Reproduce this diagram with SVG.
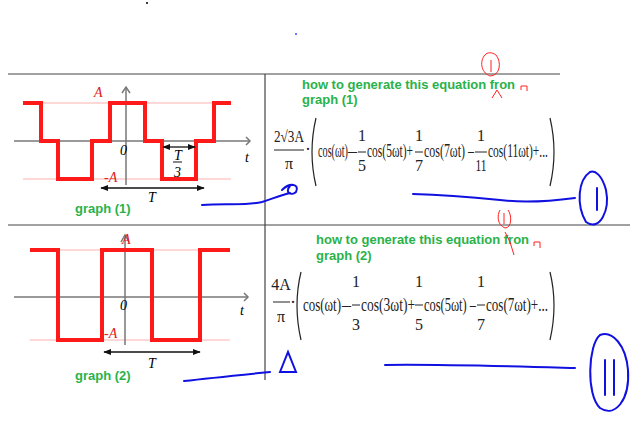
<svg xmlns="http://www.w3.org/2000/svg" width="641" height="427" viewBox="0 0 641 427">
<style>
.wave{fill:none;stroke:#ff1a1a;stroke-width:4}
.ref{stroke:#ffb0b0;stroke-width:1}
.ax{stroke:#777;stroke-width:1.5;fill:none}
.lbl{font-family:"Liberation Serif",serif;font-style:italic;font-size:14px}
.red{fill:#e02020}
.g{font-family:"Liberation Sans",Arial,sans-serif;font-weight:bold;font-size:13px;fill:#2ab24a}
.eq{font-family:"Liberation Serif",serif;font-size:18px;fill:#222}
.s{font-family:"Liberation Serif",serif;font-size:16px;fill:#222;text-anchor:middle}
.par{fill:none;stroke:#222;stroke-width:1.2}
.ink{fill:none;stroke:#1010e0;stroke-width:2;stroke-linecap:round}
.rink{fill:none;stroke:#ff2020;stroke-width:1}
</style>
<defs><marker id="ah" viewBox="0 0 10 10" refX="9" refY="5" markerWidth="6" markerHeight="6" orient="auto-start-reverse"><path d="M0,1 L10,5 L0,9z" fill="#111"/></marker></defs>
<rect width="641" height="427" fill="#fff"/>
<g id="frame" stroke="#444" stroke-width="1.2">
<line x1="8" y1="74" x2="560" y2="74"/><line x1="8" y1="225" x2="630" y2="225"/><line x1="265" y1="74" x2="265" y2="380"/>
</g>
<g id="graph1">
<line class="ref" x1="23" y1="103" x2="231" y2="103"/><line class="ref" x1="23" y1="179" x2="231" y2="179"/>
<line class="ax" x1="14" y1="141" x2="250" y2="141"/><line class="ax" x1="126" y1="185" x2="126" y2="88"/>
<path class="ax" d="M122,93 L126,87 L130,93 M246,137 L250,141 L246,145"/>
<path class="wave" d="M23,103H41V141H58V179H92V141H110V103H145V141H162V179H196V141H214V103H231"/>
<line x1="163" y1="147" x2="195" y2="147" stroke="#111" stroke-width="1.3" marker-start="url(#ah)" marker-end="url(#ah)"/>
<line x1="101" y1="188" x2="204" y2="188" stroke="#111" stroke-width="1.3" marker-start="url(#ah)" marker-end="url(#ah)"/>
<text class="lbl red" x="94" y="97">A</text><text class="lbl red" x="104" y="182">-A</text>
<text class="lbl" x="120" y="155">0</text><text class="lbl" x="245" y="162">t</text><text class="lbl" x="148" y="202">T</text>
<text class="lbl" x="174" y="160">T</text><line x1="173" y1="162" x2="182" y2="162" stroke="#111"/><text class="lbl" x="174" y="177">3</text>
<text class="g" x="75" y="213">graph (1)</text>
</g>
<g id="graph2">
<line class="ref" x1="30" y1="250" x2="230" y2="250"/><line class="ref" x1="30" y1="340" x2="230" y2="340"/>
<line class="ax" x1="14" y1="297" x2="248" y2="297"/><line class="ax" x1="125" y1="345" x2="125" y2="236"/>
<path class="ax" d="M121,242 L125,235 L129,242 M244,293 L248,297 L244,301"/>
<path class="wave" d="M30,250H58V340H102V250H152V340H200V250H230"/>
<line x1="104" y1="352" x2="200" y2="352" stroke="#111" stroke-width="1.3" marker-start="url(#ah)" marker-end="url(#ah)"/>
<text class="lbl red" x="122" y="244">A</text><text class="lbl red" x="104" y="338">-A</text>
<text class="lbl" x="120" y="310">0</text><text class="lbl" x="240" y="315">t</text><text class="lbl" x="148" y="368">T</text>
<text class="g" x="75" y="380">graph (2)</text>
</g>
<g id="eq1">
<text class="g" x="302" y="89">how to generate this equation fron</text><text class="g" x="302" y="104">graph (1)</text>
<text class="s" x="289" y="142" textLength="30" lengthAdjust="spacingAndGlyphs">2√3A</text>
<line x1="274" y1="150" x2="304" y2="150" stroke="#222"/><text class="s" x="289" y="169">π</text>
<text class="eq" x="305" y="155">·</text>
<path class="par" d="M316,118 Q308,152 316,186 M550,118 Q558,152 550,186"/>
<text class="eq" x="318" y="157" textLength="30" lengthAdjust="spacingAndGlyphs">cos(ωt)</text>
<text class="eq" x="348" y="157">–</text>
<text class="s" x="362" y="141">1</text><line x1="358" y1="152" x2="366" y2="152" stroke="#222"/><text class="s" x="362" y="171">5</text>
<text class="eq" x="367" y="157" textLength="46" lengthAdjust="spacingAndGlyphs">cos(5ωt)+</text>
<text class="s" x="419" y="141">1</text><line x1="415" y1="152" x2="423" y2="152" stroke="#222"/><text class="s" x="419" y="171">7</text>
<text class="eq" x="424" y="157" textLength="50" lengthAdjust="spacingAndGlyphs">cos(7ωt) –</text>
<text class="s" x="481" y="141">1</text><line x1="475" y1="152" x2="487" y2="152" stroke="#222"/><text class="s" x="481" y="171" textLength="11" lengthAdjust="spacingAndGlyphs">11</text>
<text class="eq" x="488" y="157" textLength="60" lengthAdjust="spacingAndGlyphs">cos(11ωt)+...</text>
</g>
<g id="eq2">
<text class="g" x="316" y="244">how to generate this equation fron</text><text class="g" x="316" y="260">graph (2)</text>
<text class="s" x="281" y="290">4A</text><line x1="273" y1="302" x2="290" y2="302" stroke="#222"/><text class="s" x="281" y="322">π</text>
<text class="eq" x="290" y="308">·</text>
<path class="par" d="M301,272 Q293,305 301,340 M550,272 Q558,305 550,340"/>
<text class="eq" x="303" y="311" textLength="38" lengthAdjust="spacingAndGlyphs">cos(ωt)</text>
<text class="eq" x="342" y="311">–</text>
<text class="s" x="356" y="287">1</text><line x1="352" y1="305" x2="360" y2="305" stroke="#222"/><text class="s" x="356" y="330">3</text>
<text class="eq" x="361" y="311" textLength="54" lengthAdjust="spacingAndGlyphs">cos(3ωt)+</text>
<text class="s" x="419" y="287">1</text><line x1="415" y1="305" x2="423" y2="305" stroke="#222"/><text class="s" x="419" y="330">5</text>
<text class="eq" x="424" y="311" textLength="52" lengthAdjust="spacingAndGlyphs">cos(5ωt) –</text>
<text class="s" x="481" y="287">1</text><line x1="477" y1="305" x2="485" y2="305" stroke="#222"/><text class="s" x="481" y="330">7</text>
<text class="eq" x="486" y="311" textLength="62" lengthAdjust="spacingAndGlyphs">cos(7ωt)+...</text>
</g>
<g id="annotations">
<path class="ink" d="M202,205 C225,203 245,206 262,202 C272,199 278,196 290,193"/>
<path class="ink" d="M282,190 C290,182 300,184 296,192 C292,196 284,193 290,186"/>
<path class="ink" d="M413,194 C450,195 480,198 500,200 C530,204 560,200 575,198"/>
<path class="ink" d="M590,172 C578,180 576,205 586,222 C600,232 610,210 606,190 C602,175 595,170 590,172 M597,188 L597,210"/>
<path class="ink" d="M184,381 C210,378 240,375 270,372 M280,372 L288,352 L296,372 Z"/>
<path class="ink" d="M385,365 C430,364 500,366 575,368"/>
<path class="ink" d="M600,335 C588,345 586,395 600,408 C615,418 630,400 628,370 C626,345 612,330 600,335 M605,360 L605,395 M614,360 L614,395"/>
<path class="rink" d="M485,55 C480,60 480,72 490,76 C500,76 502,62 496,55 C492,52 487,52 485,55 M491,60 V72 M492,98 L497,90 L502,98 M521,90 V86 H527 V91"/>
<path class="rink" d="M500,210 C497,215 497,225 505,228 C512,228 512,215 508,210 M504,213 V224 M505,232 L510,242 L514,255 M534,246 V242 H540 V248"/>
</g>
<circle cx="147" cy="3" r="1" fill="#000"/><circle cx="296" cy="34" r="1" fill="#44f"/>
</svg>
